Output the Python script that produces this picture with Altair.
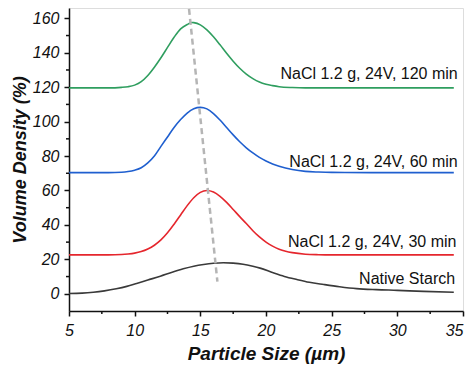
import altair as alt
import pandas as pd

# ---- data ----
series_names = ["Native Starch", "NaCl 1.2 g, 24V, 30 min",
                "NaCl 1.2 g, 24V, 60 min", "NaCl 1.2 g, 24V, 120 min"]
series_colors = ["#3a3a3a", "#e5262d", "#1f5fcf", "#2f9e5f"]

native_x = [5, 6, 6.85, 7.7, 8.6, 9.4, 10.15, 11, 11.95, 12.8, 13.7, 14.5, 15.25, 16,
            16.75, 17.5, 18.25, 19, 19.55, 20.55, 21.4, 22.35, 23.3, 24.4, 25.6, 26.9,
            28.4, 30, 32, 34.3]
native_y = [0.2, 0.4, 0.9, 1.7, 2.9, 4.3, 6, 8, 10.2, 12.4, 14.5, 16, 17, 17.7,
            18, 17.8, 17.2, 16, 14.9, 12.2, 10.1, 8.3, 6.7, 5.4, 4.1, 3.0,
            2.4, 2.0, 1.4, 0.9]

min30_x = [5, 8, 9, 9.5, 10, 10.5, 11, 11.5, 12, 12.5, 13, 13.5, 14, 14.5, 15, 15.5,
           16, 16.5, 17, 17.5, 18, 18.5, 19, 19.5, 20, 20.5, 21, 21.5, 22, 23, 24, 25, 34.3]
min30_y = [22.6, 22.6, 22.8, 23.1, 23.6, 24.5, 26.0, 28.2, 31.3, 35.4, 40.4, 45.8, 51.2,
           55.8, 58.9, 60.0, 59.1, 56.6, 53.1, 49.0, 44.8, 40.8, 36.6, 33.0, 30.0, 27.7,
           25.9, 24.7, 23.9, 23.0, 22.7, 22.6, 22.6]

min60_x = [5, 8, 9, 9.5, 10, 10.5, 11, 11.5, 12, 12.5, 13, 13.5, 14, 14.5, 15, 15.5,
           16, 16.5, 17, 17.5, 18, 18.5, 19, 19.5, 20, 20.5, 21, 22, 23, 24, 25, 28, 34.3]
min60_y = [70.4, 70.4, 70.6, 71.0, 71.8, 73.2, 76.0, 80.0, 85.6, 91.1, 96.6, 101.2, 105.0,
           107.5, 108.3, 107.4, 104.7, 100.9, 96.6, 92.3, 88.3, 84.8, 81.8, 79.2, 77.1,
           75.4, 74.1, 72.2, 71.1, 70.7, 70.5, 70.4, 70.4]

min120_x = [5, 8, 9, 9.5, 10, 10.5, 11, 11.5, 12, 12.5, 13, 13.5, 14, 14.35, 14.5, 15,
            15.5, 16, 16.5, 17, 17.5, 18, 18.5, 19, 19.5, 20, 20.5, 21, 22, 23, 25, 30, 34.3]
min120_y = [119.6, 119.6, 119.9, 120.3, 121.2, 123.2, 126.8, 131.6, 137.1, 143.1, 149.0,
            153.9, 156.4, 157.6, 157.5, 156.2, 153.3, 149.3, 144.6, 139.7, 135.1, 131.0,
            127.6, 125.0, 123.0, 121.7, 120.9, 120.3, 119.8, 119.6, 119.6, 119.6, 119.6]

dash_x = [14.14, 16.3]
dash_y = [165.5, 7]

label_text = ["NaCl 1.2 g, 24V, 120 min", "NaCl 1.2 g, 24V, 60 min",
              "NaCl 1.2 g, 24V, 30 min", "Native Starch"]
label_x = [34.6, 34.6, 34.5, 34.4]
label_y = [124.8, 73.8, 27.0, 5.7]

x_major_ticks = [5, 10, 15, 20, 25, 30, 35]
x_minor_ticks = [7.5, 12.5, 17.5, 22.5, 27.5, 32.5]
y_major_ticks = [0, 20, 40, 60, 80, 100, 120, 140, 160]
y_minor_ticks = [10, 30, 50, 70, 90, 110, 130, 150]

# ---- build tables ----
rows = []
for name, xs, ys in zip(series_names,
                        [native_x, min30_x, min60_x, min120_x],
                        [native_y, min30_y, min60_y, min120_y]):
    for i, (a, b) in enumerate(zip(xs, ys)):
        rows.append({"series": name, "size": a, "vol": b, "order": i})
df = pd.DataFrame(rows)
df_dash = pd.DataFrame({"size": dash_x, "vol": dash_y})
df_lab = pd.DataFrame({"text": label_text, "size": label_x, "vol": label_y})
df_xminor = pd.DataFrame({"size": x_minor_ticks})
df_yminor = pd.DataFrame({"vol": y_minor_ticks})

FONT = "Liberation Sans"
INK = "#111111"
W, H = 394, 303
xscale = alt.Scale(domain=[5, 35], nice=False, zero=False)
yscale = alt.Scale(domain=[-10, 166], nice=False, zero=False)

xaxis = alt.Axis(
    values=x_major_ticks, tickSize=5,
    labelAlign={"condition": {"test": "datum.value === 35", "value": "right"}, "value": "center"},
    labelFont=FONT, labelFontSize=16, labelFontStyle="italic", labelColor=INK,
    labelPadding=6, labelOverlap=False, labelFlush=False,
    tickColor=INK, tickWidth=1.5, domainColor=INK, domainWidth=1.5,
    grid=False, title="Particle Size (µm)", titleFont=FONT, titleFontSize=19,
    titleFontWeight="bold", titleFontStyle="italic", titleColor=INK, titlePadding=6,
)
yaxis = alt.Axis(
    values=y_major_ticks, tickSize=5,
    labelFont=FONT, labelFontSize=16, labelFontStyle="italic", labelColor=INK,
    labelPadding=5, labelOverlap=False, labelFlush=False,
    tickColor=INK, tickWidth=1.5, domainColor=INK, domainWidth=1.5,
    grid=False, title="Volume Density (%)", titleFont=FONT, titleFontSize=18,
    titleFontWeight="bold", titleFontStyle="italic", titleColor=INK, titlePadding=3,
)

X = alt.X("size:Q", scale=xscale, axis=xaxis)
Y = alt.Y("vol:Q", scale=yscale, axis=yaxis)

lines = alt.Chart(df).mark_line(strokeWidth=1.6, interpolate="monotone").encode(
    x=X, y=Y,
    color=alt.Color("series:N", scale=alt.Scale(domain=series_names, range=series_colors),
                    legend=None),
    order="order:Q",
)

dash = alt.Chart(df_dash).mark_line(strokeWidth=2.5, strokeDash=[6, 4], color="#b5b5b5").encode(
    x=X, y=Y,
)

labels = alt.Chart(df_lab).mark_text(
    align="right", baseline="alphabetic", font=FONT, fontSize=16, color=INK
).encode(
    x=X, y=Y, text="text:N",
)

xminor = alt.Chart(df_xminor).mark_rule(color=INK, strokeWidth=1.5).encode(
    x=X, y=alt.value(H), y2=alt.value(H + 3),
)
yminor = alt.Chart(df_yminor).mark_rule(color=INK, strokeWidth=1.5).encode(
    y=Y, x=alt.value(0), x2=alt.value(-3),
)

chart = alt.layer(lines, dash, labels, xminor, yminor).properties(
    width=W, height=H,
    autosize=alt.AutoSizeParams(type="none"),
    padding={"left": 61, "top": 0, "right": 3, "bottom": 53},
).configure_view(stroke="#444", strokeWidth=1.5).configure(background="white")

chart.save("out.html", embed_options={"renderer": "svg", "actions": False})
